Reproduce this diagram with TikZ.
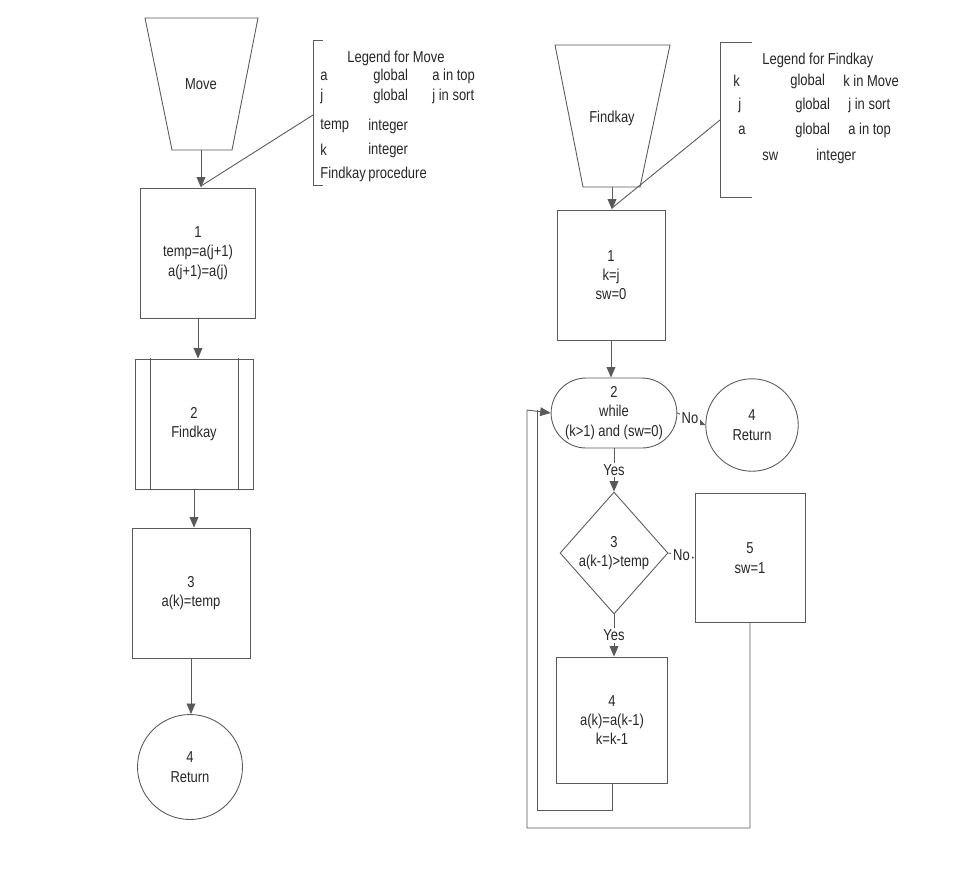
\documentclass[tikz,border=0pt]{standalone}
\usepackage{fontspec}
\setmainfont{Liberation Sans}[FakeStretch=0.82]
\usetikzlibrary{shapes.geometric,shapes.misc,arrows.meta}
\begin{document}
\begin{tikzpicture}[x=0.02cm,y=-0.02cm,
  every node/.style={font=\fontsize{9}{11}\selectfont,align=center,text=black!85},
  ln/.style={draw=black!65,line width=0.5pt},
  ar/.style={ln,-{Triangle[length=6pt,width=5pt]}},
  box/.style={ln,draw,minimum width=2.3cm,minimum height=2.6cm},
  lg/.style={anchor=west,inner sep=0pt}]
\useasboundingbox (0,0) rectangle (980,870);
% ---- left ----
\draw[ln] (145,18) -- (258,18) -- (232,150) -- (172,150) -- cycle;
\node (mv) at (201,84) {Move};
\coordinate (mvb) at (201,150);
\node[box] (b1) at (198,253) {1\\temp=a(j+1)\\a(j+1)=a(j)};
\node[box,minimum width=2.36cm] (b2) at (194,424) {2\\Findkay};
\draw[ln] (150,358) -- (150,490) (238,358) -- (238,490);
\node[box,minimum width=2.36cm] (b3) at (191,593) {3\\a(k)=temp};
\node[ln,draw,circle,minimum size=2.1cm] (r1) at (190,767) {4\\Return};
\draw[ar] (mvb) -- (mvb |- b1.north);
\draw[ar] (b1.south) -- (b1.south |- b2.north);
\draw[ar] (b2.south) -- (b2.south |- b3.north);
\draw[ar] (b3.south) -- (b3.south |- r1.north);
% legend move
\draw[ln] (323,40) -- (313,40) -- (313,185) -- (323,185);
\coordinate (lm) at (313,115);
\draw[ln] (lm) -- (201,186);
\node[lg] at (347,58) {Legend for Move};
\node[lg] at (320,76) {a}; \node[lg] at (373,76) {global}; \node[lg] at (432,76) {a in top};
\node[lg] at (320,96) {j}; \node[lg] at (373,96) {global}; \node[lg] at (432,96) {j in sort};
\node[lg] at (320,126) {temp}; \node[lg] at (368,126) {integer};
\node[lg] at (320,150) {k}; \node[lg] at (368,150) {integer};
\node[lg] at (320,174) {Findkay}; \node[lg] at (368,174) {procedure};
% ---- right ----
\draw[ln] (555,45) -- (670,45) -- (640,187) -- (583,187) -- cycle;
\node (fk) at (612,118) {Findkay};
\coordinate (fkb) at (612,187);
\node[box,minimum width=2.16cm] (c1) at (611,275) {1\\k=j\\sw=0};
\node[ln,draw,rounded rectangle,minimum width=2.24cm,minimum height=1.4cm,inner sep=1pt] (c2) at (614,413) {2\\while\\(k>1) and (sw=0)};
\node[ln,draw,circle,minimum size=1.85cm] (r2) at (752,425) {4\\Return};
\node[ln,draw,diamond,aspect=0.9,minimum width=2.16cm,minimum height=2.44cm,inner sep=0pt] (c3) at (614,553) {3\\a(k-1)>temp};
\node[box,minimum width=2.2cm,minimum height=2.58cm] (c5) at (750,558) {5\\sw=1};
\node[box,minimum width=2.22cm,minimum height=2.52cm] (c4) at (612,720) {4\\a(k)=a(k-1)\\k=k-1};
\draw[ar] (fkb) -- (fkb |- c1.north);
\draw[ar] (c1.south) -- (c1.south |- c2.north);
\draw[ar] (c2.east) -- node[fill=white,inner sep=1pt,pos=0.45] {No} (r2.west);
\draw[ar] (c2.south) -- node[fill=white,inner sep=1pt] {Yes} (c2.south |- c3.north);
\draw[ar] (c3.east) -- node[fill=white,inner sep=1pt,pos=0.5] {No} (c5.west);
\draw[ar] (c3.south) -- node[fill=white,inner sep=1pt] {Yes} (c3.south |- c4.north);
\coordinate (j1) at (537,810); \coordinate (j2) at (527,828);
\draw[ln] (c4.south) |- (j1) -- (537,410);
\draw[ar] (c5.south) |- (j2) -- (527,410) -- (c2.west);
% legend findkay
\draw[ln] (752,42) -- (720,42) -- (720,197) -- (752,197);
\coordinate (lf) at (720,120);
\draw[ln] (lf) -- (612,208);
\node[lg] at (762,60) {Legend for Findkay};
\node[lg] at (733,81) {k}; \node[lg] at (790,81) {global}; \node[lg] at (843,81) {k in Move};
\node[lg] at (738,105) {j}; \node[lg] at (795,105) {global}; \node[lg] at (848,105) {j in sort};
\node[lg] at (738,130) {a}; \node[lg] at (795,130) {global}; \node[lg] at (848,130) {a in top};
\node[lg] at (762,156) {sw}; \node[lg] at (816,156) {integer};
\end{tikzpicture}
\end{document}
